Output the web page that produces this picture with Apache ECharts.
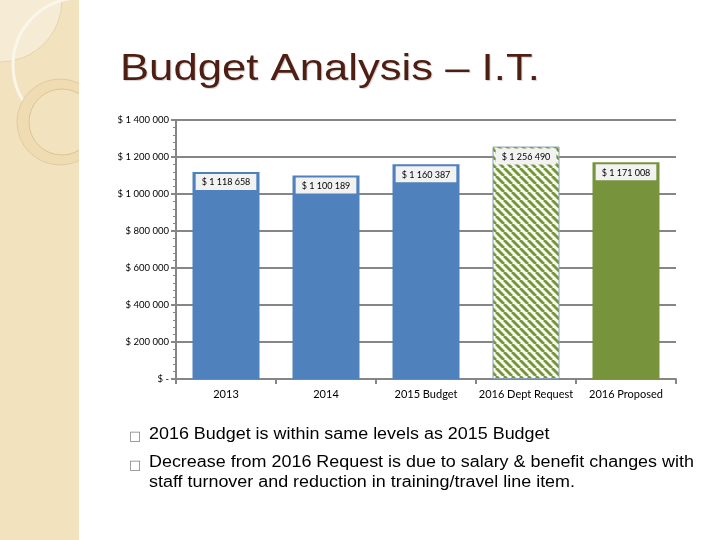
<!DOCTYPE html>
<html>
<head>
<meta charset="utf-8">
<script src="https://cdn.jsdelivr.net/npm/echarts@6/dist/echarts.min.js"></script>
<style>
  html, body { margin: 0; padding: 0; background: #fff; }
  #main { width: 720px; height: 540px; }
</style>
</head>
<body>
<div id="main"></div>
<script>
var categories = ['2013', '2014', '2015 Budget', '2016 Dept Request', '2016 Proposed'];
var budget = [1118658, 1100189, 1160387, 1256490, 1171008];
var yTicks = [0, 200000, 400000, 600000, 800000, 1000000, 1200000, 1400000];
var titleText = 'Budget Analysis \u2013 I.T.';
var bullets = [
    '2016 Budget is within same levels as 2015 Budget',
    'Decrease from 2016 Request is due to salary & benefit changes with',
    'staff turnover and reduction in training/travel line item.'
];

var blue = '#4f81bd';
var green = '#77933c';

// hatch pattern for the dept request bar
function makeHatch() {
    var c = document.createElement('canvas');
    c.width = 8;
    c.height = 8;
    var ctx = c.getContext('2d');
    ctx.fillStyle = '#f7fbef';
    ctx.fillRect(0, 0, 8, 8);
    ctx.strokeStyle = green;
    ctx.lineWidth = 2.8;
    for (var k = -8; k <= 8; k += 8) {
        ctx.beginPath();
        ctx.moveTo(k, 0);
        ctx.lineTo(k + 8, 8);
        ctx.stroke();
    }
    return c;
}

function money(v) {
    if (v === 0) return '$ -';
    var s = String(Math.round(v));
    var out = '';
    while (s.length > 3) {
        out = ' ' + s.slice(-3) + out;
        s = s.slice(0, -3);
    }
    return '$ ' + s + out;
}

var barData = [];
for (var i = 0; i < budget.length; i++) {
    var item = { value: budget[i] };
    if (i === 3) {
        item.itemStyle = {
            color: { image: makeHatch(), repeat: 'repeat' },
            borderColor: '#8aa0b4',
            borderWidth: 1
        };
    } else if (i === 4) {
        item.itemStyle = { color: green };
    }
    barData.push(item);
}

var textTop = [427, 455, 475];
var boxMid = [437, 466];
var graphics = [
    { type: 'rect', z: -10, shape: { x: 0, y: 0, width: 79, height: 540 }, style: { fill: '#f2e2bd' }, silent: true },
    { type: 'circle', z: -9, shape: { cx: 0, cy: 0, r: 62 }, style: { fill: '#f6ecd6', stroke: '#d9c6a0', lineWidth: 0.6 }, silent: true },
    { type: 'circle', z: -9, shape: { cx: 80, cy: 65, r: 67 }, style: { fill: null, stroke: '#fbf6ea', lineWidth: 3 }, silent: true },
    { type: 'circle', z: -9, shape: { cx: 60, cy: 122, r: 43 }, style: { fill: '#f0dcb3', stroke: '#d2bd95', lineWidth: 0.6 }, silent: true },
    { type: 'circle', z: -9, shape: { cx: 62, cy: 122, r: 33 }, style: { fill: '#f2e2bd', stroke: '#c9b28a', lineWidth: 0.6 }, silent: true },
    { type: 'rect', z: -8, shape: { x: 79, y: 0, width: 641, height: 540 }, style: { fill: '#ffffff' }, silent: true },
    {
        type: 'text', x: 120, y: 51, scaleX: 1.18,
        style: {
            text: titleText, fontSize: 37, fontFamily: 'Liberation Sans', fill: '#4f1e13',
            verticalAlign: 'top',
            textShadowColor: 'rgba(0,0,0,0.18)', textShadowOffsetX: 1, textShadowOffsetY: 1, textShadowBlur: 1
        }
    }
];
for (var b = 0; b < bullets.length; b++) {
    if (b < 2) {
        graphics.push({
            type: 'text', x: 129, y: boxMid[b],
            style: { text: '\u25a1', fontSize: 13, fontFamily: 'DejaVu Sans', fill: '#7f7f7f', verticalAlign: 'middle' }
        });
    }
    graphics.push({
        type: 'text', x: 149, y: textTop[b], scaleX: 1.12,
        style: { text: bullets[b], fontSize: 16, fontFamily: 'Liberation Sans', fill: '#000', verticalAlign: 'top' }
    });
}

var chart = echarts.init(document.getElementById('main'));
var option = {
    backgroundColor: '#fff',
    animation: false,
    graphic: graphics,
    grid: { left: 176, right: 44, top: 120, bottom: 161, containLabel: false },
    xAxis: {
        type: 'category',
        data: categories,
        boundaryGap: true,
        axisLine: { lineStyle: { color: '#868686', width: 2 } },
        axisTick: { show: true, length: 5, lineStyle: { color: '#868686', width: 2 } },
        axisLabel: { interval: 0, color: '#000', fontSize: 11, fontFamily: 'Lato', margin: 10 }
    },
    yAxis: {
        type: 'value',
        min: 0,
        max: 1400000,
        interval: 200000,
        axisLine: { show: true, lineStyle: { color: '#868686', width: 2 } },
        axisTick: { show: true, length: 5, lineStyle: { color: '#868686', width: 2 } },
        minorTick: { show: true, splitNumber: 5, length: 3, lineStyle: { color: '#868686', width: 1 } },
        splitLine: { lineStyle: { color: '#868686', width: 2 } },
        axisLabel: {
            color: '#000', fontSize: 9.5, fontFamily: 'Lato', margin: 7,
            formatter: function (v) { return yTicks.indexOf(v) >= 0 ? money(v) : ''; }
        }
    },
    series: [{
        type: 'bar',
        data: barData,
        barWidth: '67%',
        itemStyle: { color: blue },
        label: {
            show: true,
            position: 'insideTop',
            distance: 2,
            formatter: function (p) { return money(p.value); },
            backgroundColor: '#f2f2f2',
            padding: [4, 6, 3, 6],
            color: '#000',
            fontSize: 9,
            fontFamily: 'Lato'
        }
    }]
};
chart.setOption(option);
</script>
</body>
</html>
